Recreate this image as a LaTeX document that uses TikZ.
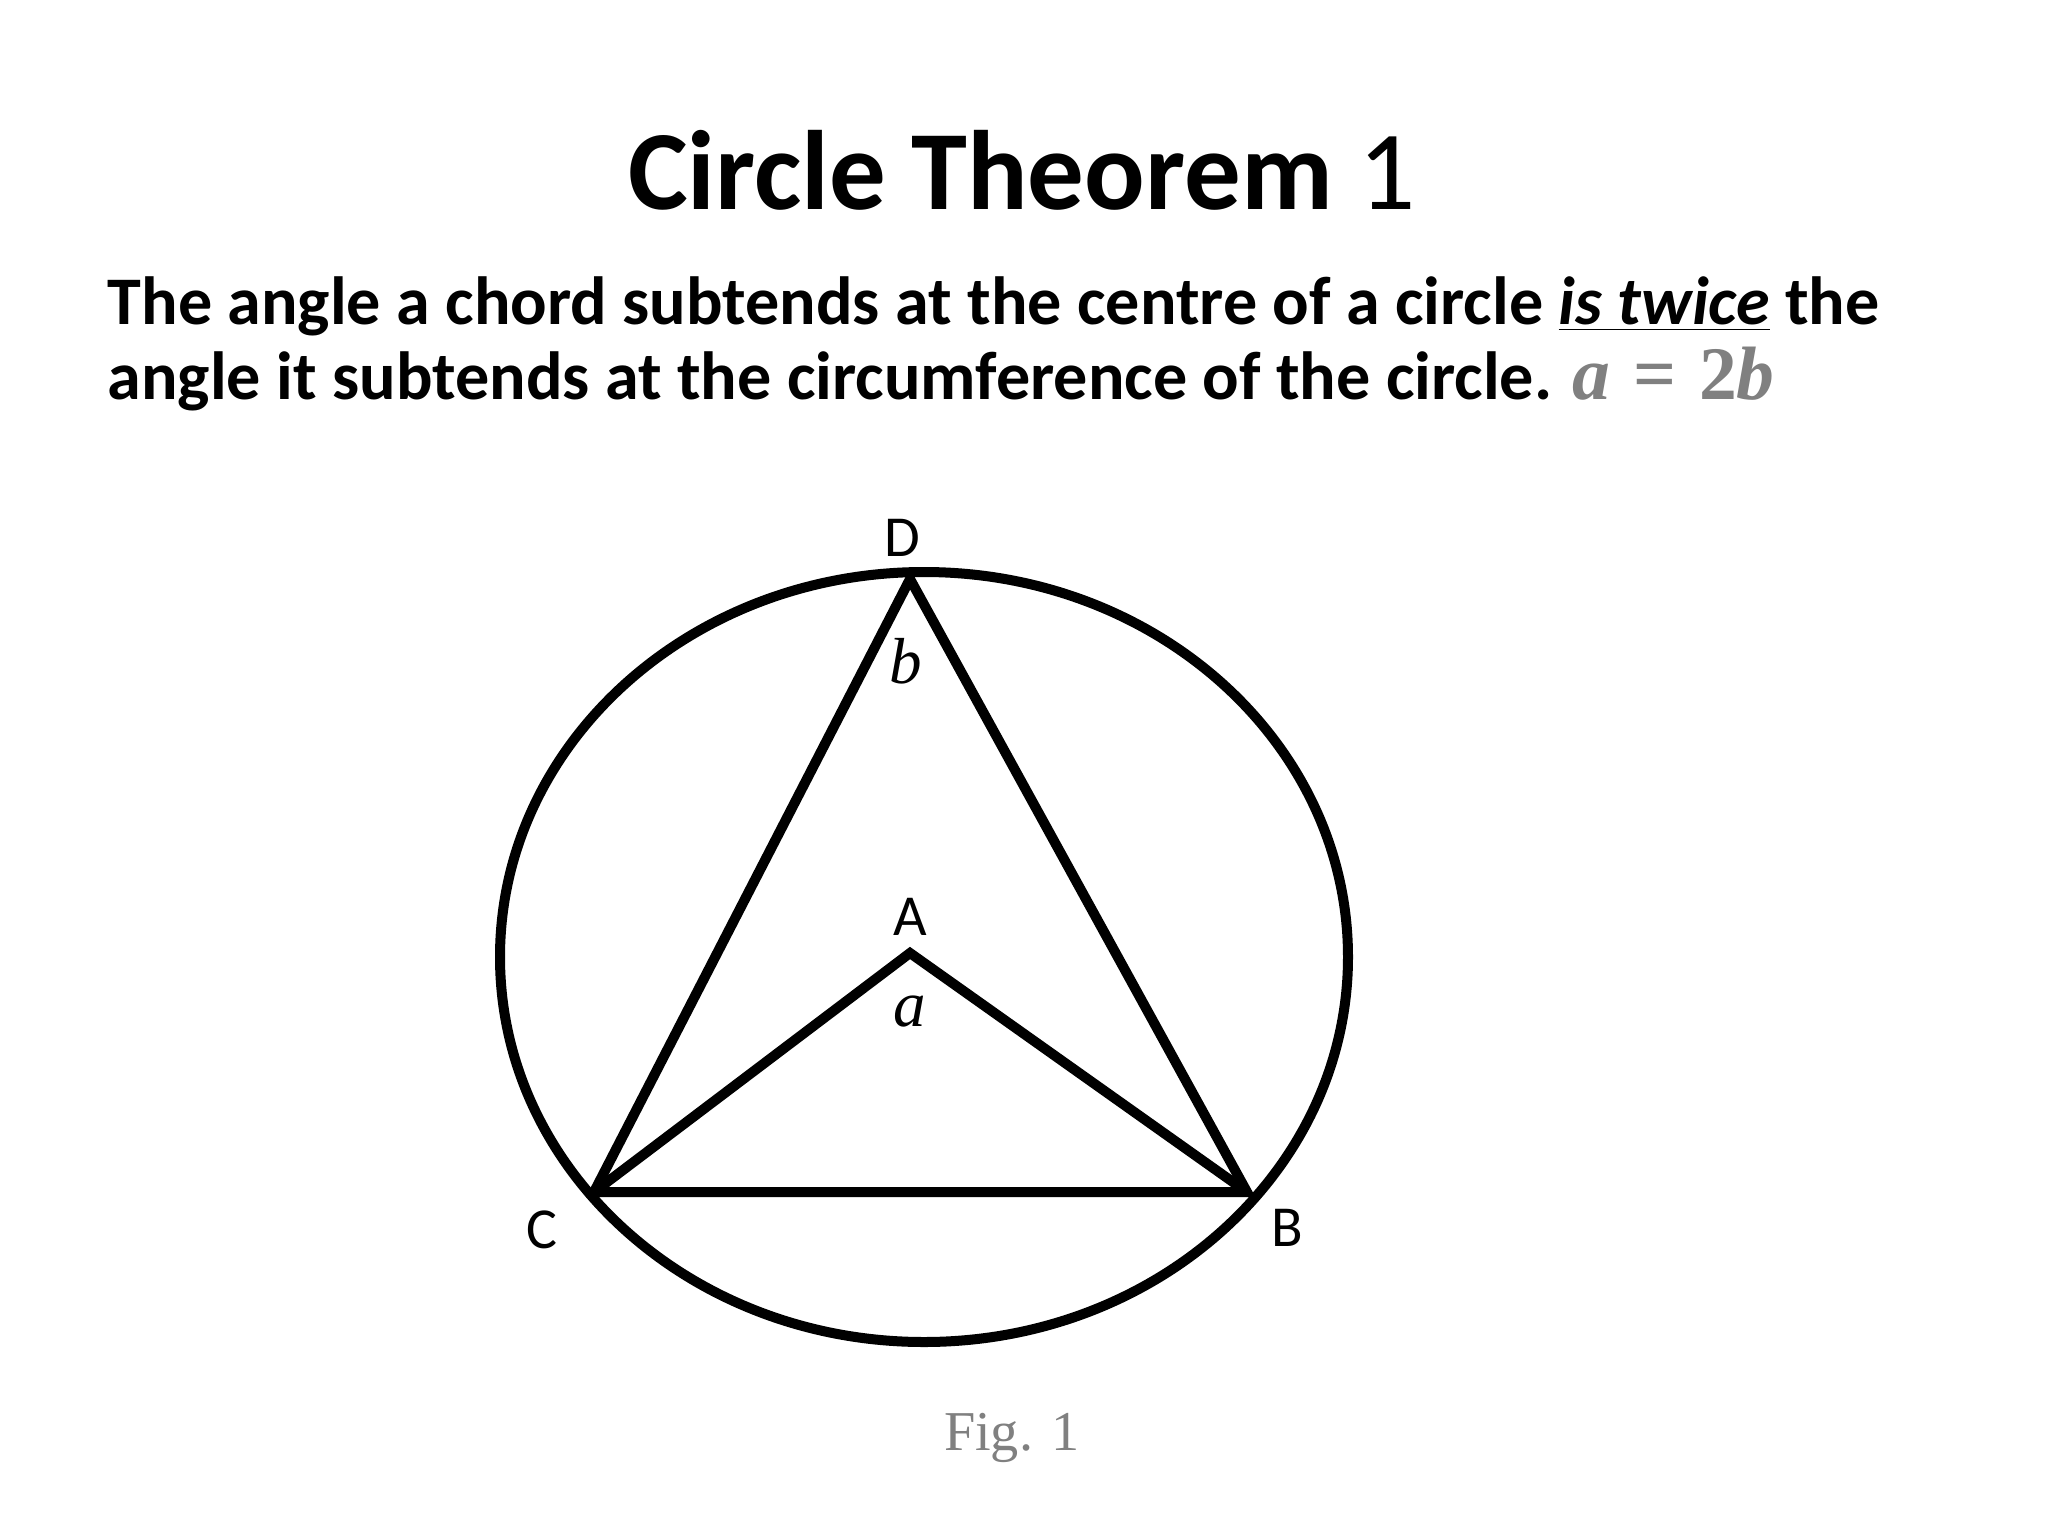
\documentclass[tikz,border=0pt]{standalone}
\usepackage{fontspec}
\setmainfont{Carlito}
\newfontfamily\figfont{Liberation Serif}
\usepackage{tikz}
\usetikzlibrary{positioning}
\colorlet{Grey}{black!50}

\tikzset{
  geo/.style={line width=10pt*0.2845, line join=miter},
  pointlabel/.style={font=\fontsize{16.5}{18}\selectfont, inner sep=0pt},
  anglelabel/.style={font=\figfont\itshape\fontsize{18.5}{20}\selectfont, inner sep=0pt},
}

\begin{document}
\begin{tikzpicture}[x=0.01cm, y=-0.01cm]
        \useasboundingbox[fill=white] (0,0) rectangle (2048,1536);

        % title and text
        \node[anchor=base, inner sep=0pt, font=\fontsize{32.1}{38}\selectfont] (title) at (1022,209)
            {\textbf{Circle Theorem} 1};
        \node[anchor=base west, inner sep=0pt, font=\bfseries\fontsize{19.37}{22}\selectfont] (line1) at (107,324)
            {The angle a chord subtends at the centre of a circle \underline{\textit{is twice}} the};
        \node[anchor=base west, inner sep=0pt, font=\bfseries\fontsize{19.37}{22}\selectfont] (line2) at (107,399)
            {angle it subtends at the circumference of the circle. {\color{Grey}\figfont\fontsize{21.5}{22}\selectfont\textbf{\textit{a}}\hspace{0.3em}=\hspace{0.3em}\textbf{2\textit{b}}}};

        % points on the circle
        \coordinate (O) at (924,957);
        \coordinate (D) at (910,579);
        \coordinate (A) at (910,953);
        \coordinate (C) at (594,1192);
        \coordinate (B) at (1247,1192);

        % circle and chords
        \draw[geo] (O) ellipse [x radius=424, y radius=385];
        \draw[geo] (C) -- (D) -- (B) -- cycle;
        \draw[geo] (C) -- (A) -- (B);

        % labels
        \node[pointlabel, anchor=base] (Dl) at (902,556) {D};
        \node[pointlabel, anchor=base] (Al) at (910,935) {A};
        \node[pointlabel, anchor=base] (Cl) at (542,1248) {C};
        \node[pointlabel, anchor=base] (Bl) at (1287,1246) {B};
        \node[anglelabel, anchor=base] (b) at (906,683) {b};
        \node[anglelabel, anchor=base] (a) at (910,1026) {a};
        \node[anchor=base, inner sep=0pt, text=Grey, font=\figfont\fontsize{16}{18}\selectfont] (fig) at (1012,1450) {Fig. 1};
\end{tikzpicture}
\end{document}
